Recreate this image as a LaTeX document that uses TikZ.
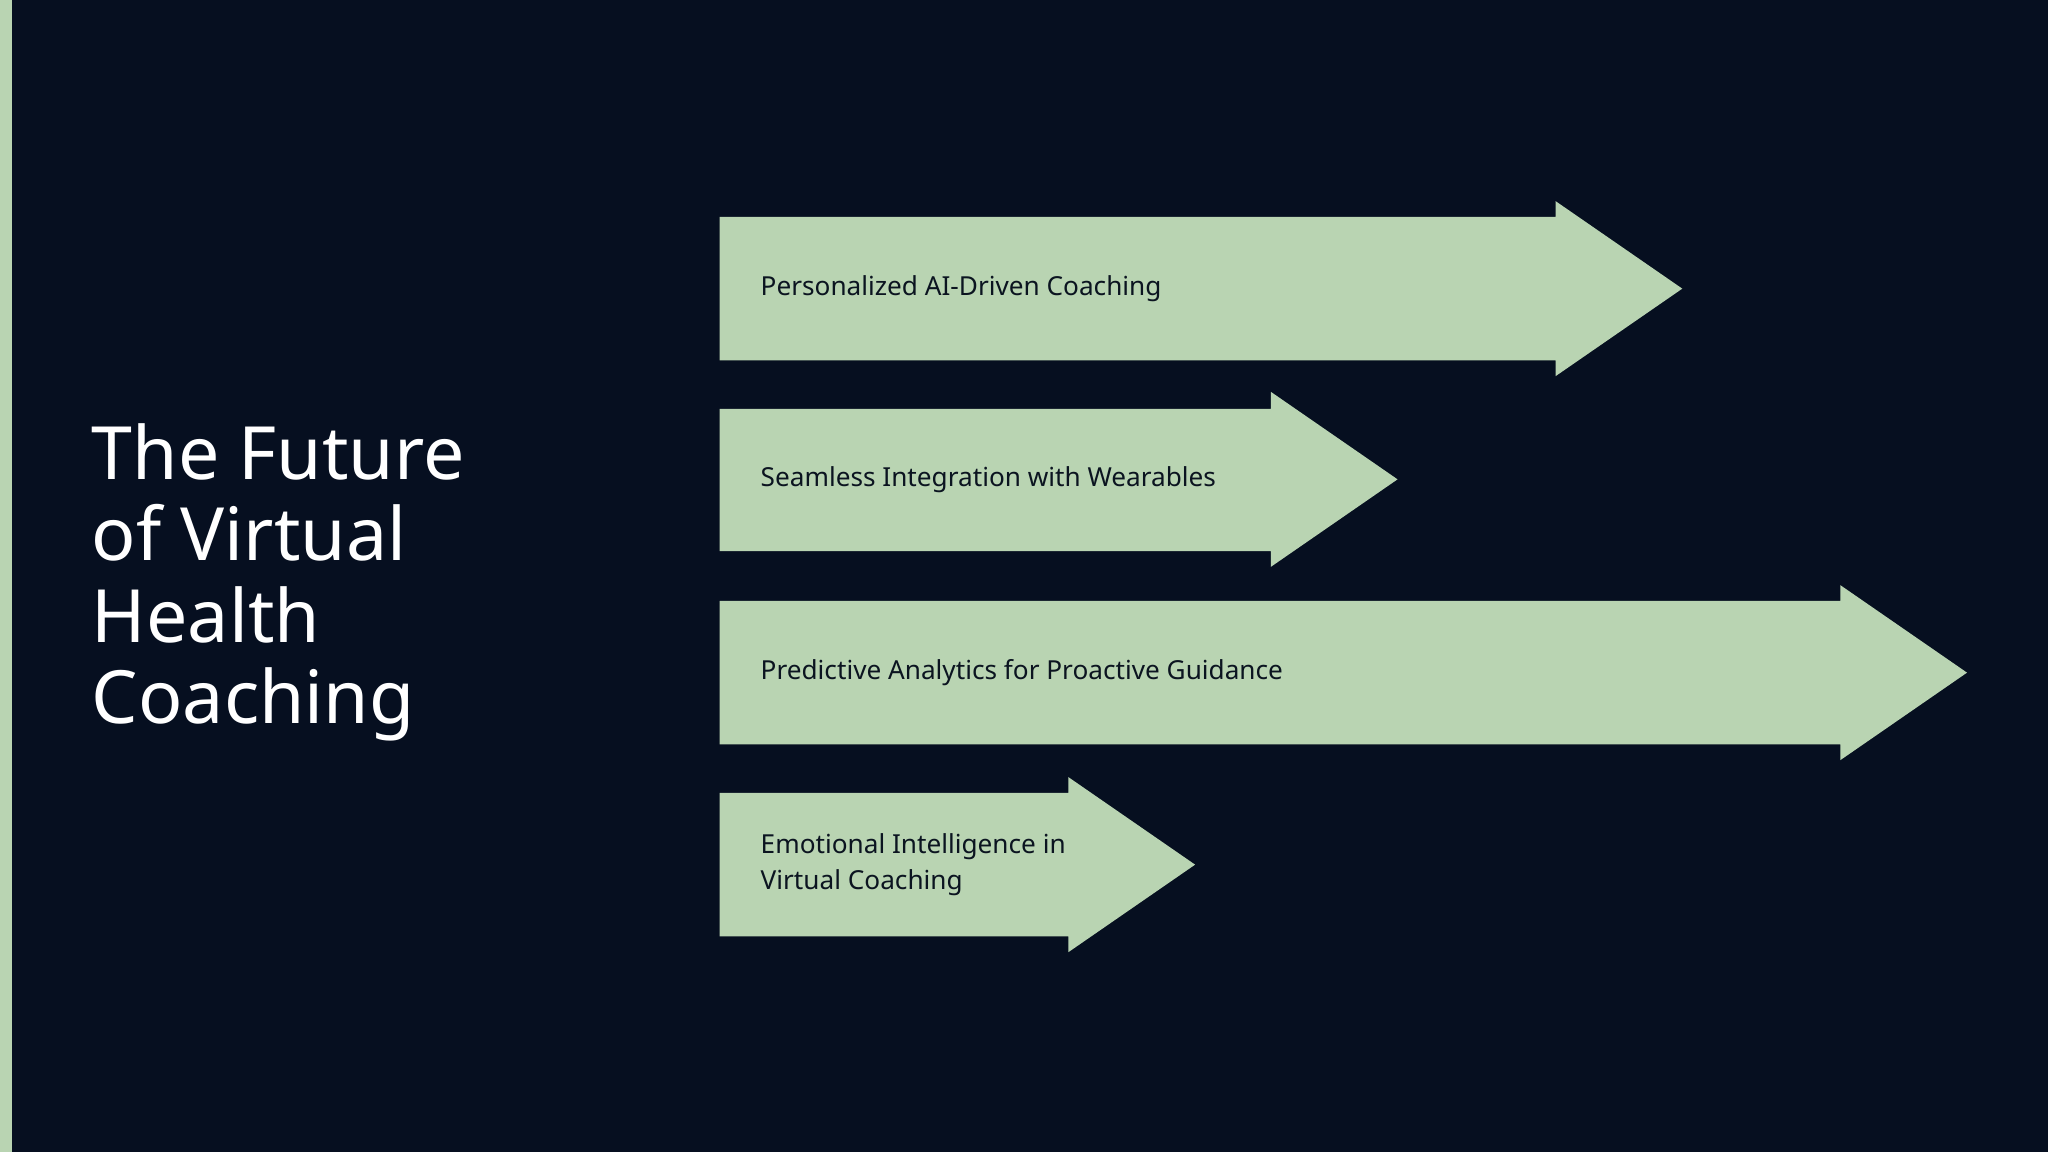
\documentclass[tikz,border=0pt]{standalone}
\usepackage{fontspec}
\setmainfont{Noto Sans}
\definecolor{bg}{HTML}{060F20}
\definecolor{sage}{HTML}{B9D4B2}
\definecolor{ink}{HTML}{0B1420}
\begin{document}
\begin{tikzpicture}[x=0.01cm,y=-0.01cm,
  arr/.style={fill=sage,draw=none},
  lbl/.style={anchor=west,text=ink,font=\fontsize{5.7pt}{8pt}\selectfont,align=left}]
\fill[bg] (0,0) rectangle (1568,882);
\useasboundingbox (0,0) rectangle (1568,882);
\fill[sage] (0,0) rectangle (9,882);
\node[anchor=north west,text=white,align=left,font=\fontsize{16pt}{17.7pt}\selectfont] (title) at (58,312) {The Future\\of Virtual\\Health\\Coaching};
\fill[arr] (551,166) -- (1191,166) -- (1191,154) -- (1288,221) -- (1191,288) -- (1191,276) -- (551,276) -- cycle;
\node[lbl] (a1) at (570,221) {Personalized AI-Driven Coaching};
\fill[arr] (551,313) -- (973,313) -- (973,300) -- (1070,367) -- (973,434) -- (973,422) -- (551,422) -- cycle;
\node[lbl] (a2) at (570,367) {Seamless Integration with Wearables};
\fill[arr] (551,460) -- (1409,460) -- (1409,448) -- (1506,515) -- (1409,582) -- (1409,570) -- (551,570) -- cycle;
\node[lbl] (a3) at (570,515) {Predictive Analytics for Proactive Guidance};
\fill[arr] (551,607) -- (818,607) -- (818,595) -- (915,662) -- (818,729) -- (818,717) -- (551,717) -- cycle;
\node[lbl] (a4) at (570,662) {Emotional Intelligence in\\Virtual Coaching};
\end{tikzpicture}
\end{document}
